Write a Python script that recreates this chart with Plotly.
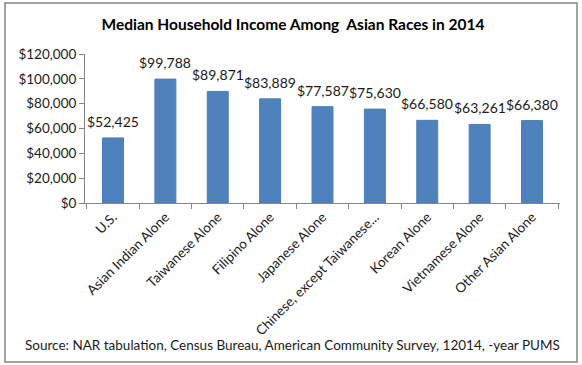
import plotly.graph_objects as go

categories = ["U.S.", "Asian Indian Alone", "Taiwanese Alone", "Filipino Alone",
              "Japanese Alone", "Chinese, except Taiwanese...", "Korean Alone",
              "Vietnamese Alone", "Other Asian Alone"]
values = [52425, 99788, 89871, 83889, 77587, 75630, 66580, 63261, 66380]
y_ticks = [0, 20000, 40000, 60000, 80000, 100000, 120000]
y_tick_labels = ["$0", "$20,000", "$40,000", "$60,000", "$80,000", "$100,000", "$120,000"]

W, H = 582, 365
L, R, T, B = 85, 22, 54, 162
pw, ph = W - L - R, H - T - B

def px(x):
    return (x - L) / pw

def py(y):
    return (H - B - y) / ph

FONT = "Lato, 'Open Sans', sans-serif"

fig = go.Figure(go.Bar(
    x=categories, y=values,
    marker=dict(color="#4F81BD", line=dict(color="#4A7EBB", width=1)),
    width=0.4,
    hoverinfo="skip",
))

label_annotations = [
    dict(x=c, y=v, xref="x", yref="y", text=f"${v:,}", showarrow=False,
         yanchor="bottom", xanchor="center", yshift=6,
         font=dict(size=14, color="#1a1a1a", family=FONT))
    for c, v in zip(categories, values)
]

fig.update_layout(
    width=W, height=H,
    margin=dict(l=L, r=R, t=T, b=B, autoexpand=False),
    paper_bgcolor="white", plot_bgcolor="white",
    showlegend=False,
    font=dict(family=FONT, size=13, color="#1a1a1a"),
    title=dict(text="<b>Median Household Income Among  Asian Races in 2014</b>",
               x=px(293), xanchor="center", xref="paper", y=1 - 25 / H, yanchor="middle",
               font=dict(size=15.5, family=FONT, color="#000")),
    xaxis=dict(
        type="category", tickangle=-45, showline=True, linecolor="#868686",
        ticks="outside", tickson="boundaries", ticklen=5, tickcolor="#868686",
        tickfont=dict(size=13.5, family=FONT, color="#1a1a1a"),
        showgrid=False, automargin=False,
    ),
    yaxis=dict(
        range=[0, 120000], tickvals=y_ticks, ticktext=y_tick_labels,
        showline=True, linecolor="#868686", ticks="outside", ticklen=5,
        tickcolor="#868686", showgrid=False, zeroline=False, automargin=False,
        tickfont=dict(size=13.5, family=FONT, color="#1a1a1a"),
    ),
    shapes=[dict(type="rect", xref="paper", yref="paper",
                 x0=px(5), x1=px(577), y0=py(3), y1=py(362),
                 line=dict(color="#868686", width=1.5), fillcolor="rgba(0,0,0,0)",
                 layer="below")],
    annotations=label_annotations + [
        dict(text="Source: NAR tabulation, Census Bureau, American Community Survey, 12014, -year PUMS",
             xref="paper", yref="paper", x=px(23), y=py(345),
             xanchor="left", yanchor="middle", showarrow=False,
             font=dict(size=13.5, family=FONT, color="#1a1a1a"))],
)

fig.write_html("out.html", config={"displayModeBar": False},
               post_script="document.body.style.margin='0';document.body.style.overflow='hidden';")
